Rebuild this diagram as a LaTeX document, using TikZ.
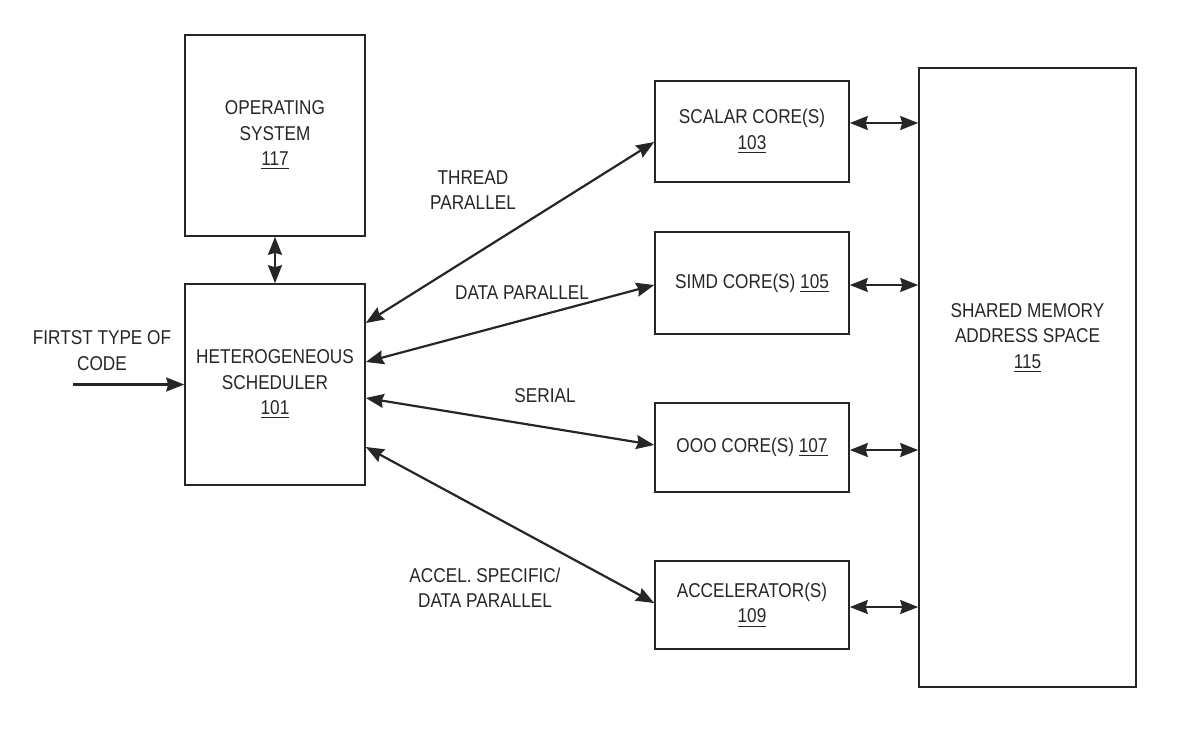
\documentclass[tikz,border=0pt]{standalone}
\usepackage{fontspec}
\setmainfont{Liberation Sans}[FakeStretch=0.86]
\usetikzlibrary{arrows.meta}
\begin{document}
\begin{tikzpicture}[x=0.5pt,y=-0.5pt,
  txt/.style={font=\fontsize{10}{12.75}\selectfont, text=black!85},
  box/.style={draw=black!85, line width=0.8pt, inner sep=0pt, align=center, txt},
  lbl/.style={inner sep=0pt, align=center, txt},
  tip/.tip={Stealth[length=9pt,width=7pt,inset=1pt]},
  arr/.style={line width=1.1pt, draw=black!85, -tip},
  dbl/.style={line width=1.1pt, draw=black!85, tip-tip}]
\useasboundingbox (0,0) rectangle (1191,740);
% boxes
\node[box, minimum width=90pt, minimum height=100.5pt] (os) at (275,135.5) {OPERATING\\SYSTEM\\\underline{117}};
\node[box, minimum width=90pt, minimum height=100.5pt] (sched) at (275,384.5) {HETEROGENEOUS\\SCHEDULER\\\underline{101}};
\node[box, minimum width=97pt, minimum height=50.5pt] (scalar) at (752,131.5) {SCALAR CORE(S)\\\underline{103}};
\node[box, minimum width=97pt, minimum height=51pt] (simd) at (752,283) {SIMD CORE(S) \underline{105}};
\node[box, minimum width=97pt, minimum height=44.5pt] (ooo) at (752,447.5) {OOO CORE(S) \underline{107}};
\node[box, minimum width=97pt, minimum height=44pt] (acc) at (752,605) {ACCELERATOR(S)\\\underline{109}};
\node[box, minimum width=108.5pt, minimum height=309.5pt] (shared) at (1027.5,377.5) {};
\node[lbl] (sharedtxt) at (1027.5,338) {SHARED MEMORY\\ADDRESS SPACE\\\underline{115}};
% labels
\node[lbl] (intxt) at (102,350.5) {FIRTST TYPE OF\\CODE};
\node[lbl] (thread) at (473,190) {THREAD\\PARALLEL};
\node[lbl] (datapar) at (522,293) {DATA PARALLEL};
\node[lbl] (serial) at (545,396) {SERIAL};
\node[lbl] (accel) at (485,587.5) {ACCEL. SPECIFIC/\\DATA PARALLEL};
% input
\coordinate (in) at (73,384.5);
\draw[arr] (in) -- (sched.west);
\draw[dbl] (os.south) -- (sched.north);
% scheduler to cores
\draw[dbl] ([yshift=30.75pt]sched.east) -- ([yshift=-5.25pt]scalar.west);
\draw[dbl] ([yshift=11.25pt]sched.east) -- ([yshift=-1pt]simd.west);
\draw[dbl] ([yshift=-6.75pt]sched.east) -- ([yshift=1.25pt]ooo.west);
\draw[dbl] ([yshift=-31.25pt]sched.east) -- ([yshift=1pt]acc.west);
% cores to shared memory
\coordinate (c1) at ([yshift=4.25pt]scalar.east);
\coordinate (c2) at ([yshift=-1pt]simd.east);
\coordinate (c3) at ([yshift=-1.25pt]ooo.east);
\coordinate (c4) at ([yshift=-1pt]acc.east);
\draw[dbl] (c1) -- (c1 -| shared.west);
\draw[dbl] (c2) -- (c2 -| shared.west);
\draw[dbl] (c3) -- (c3 -| shared.west);
\draw[dbl] (c4) -- (c4 -| shared.west);
\end{tikzpicture}
\end{document}
